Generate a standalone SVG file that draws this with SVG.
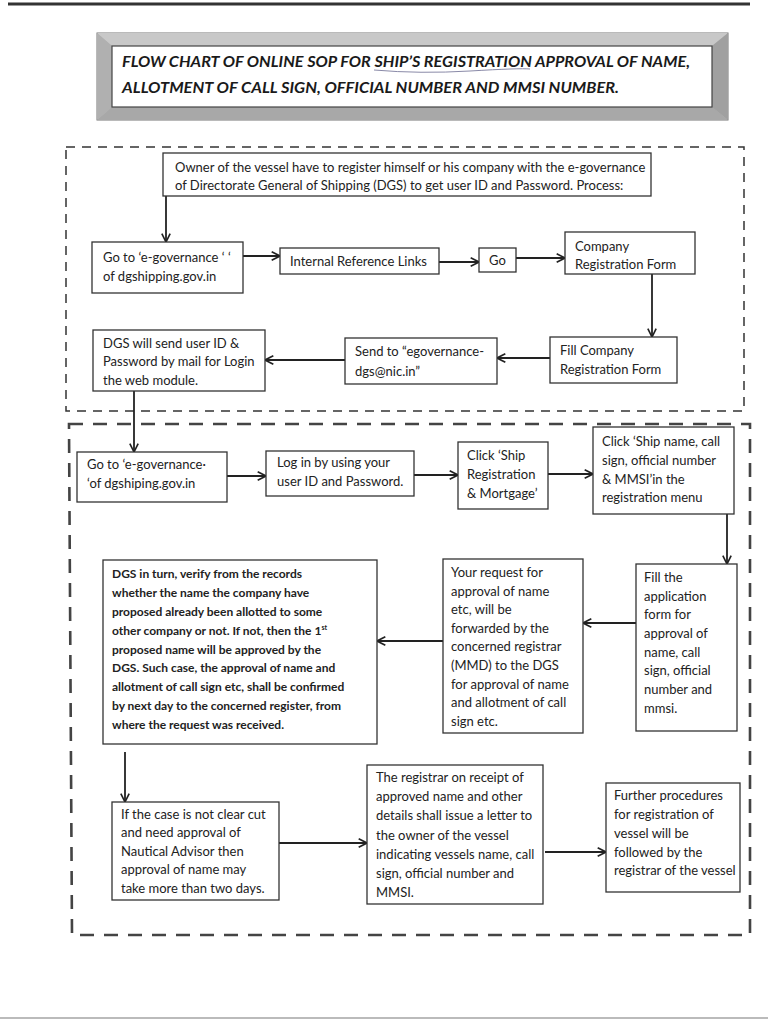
<svg xmlns="http://www.w3.org/2000/svg" width="768" height="1024" viewBox="0 0 768 1024">
<style>
.t{font-family:Lato,"Open Sans","Liberation Sans",sans-serif;font-size:13px;fill:#222}
.b{font-weight:bold;font-size:12px}
.ttl{font-family:Lato,"Open Sans","Liberation Sans",sans-serif;font-size:15.5px;font-style:italic;font-weight:bold;fill:#1a1a1a}
.box{fill:#fff;stroke:#333;stroke-width:1.3}
.c{fill:none;stroke:#222;stroke-width:1.8}
.d1{fill:none;stroke:#333;stroke-width:1.5;stroke-dasharray:9 7}
.d2{fill:none;stroke:#444;stroke-width:2.6;stroke-dasharray:14 10}
</style>
<defs>
<marker id="ah" viewBox="0 0 12 12" refX="11" refY="6" markerWidth="10" markerHeight="10" markerUnits="userSpaceOnUse" orient="auto">
<path d="M1,1 L11,6 L1,11" fill="none" stroke="#222" stroke-width="2"/>
</marker>
</defs>
<rect width="768" height="1024" fill="#fff"/>
<line x1="8" y1="4" x2="750" y2="4" stroke="#333" stroke-width="3"/>
<line x1="0" y1="1018" x2="768" y2="1018" stroke="#bbb" stroke-width="2"/>

<g id="title">
<rect x="97" y="33" width="631" height="87" fill="#b8b8b8" stroke="#777" stroke-width="1"/>
<polygon points="97,33 728,33 712,46 112,46" fill="#c8c8c8"/>
<polygon points="97,120 728,120 712,107 112,107" fill="#a8a8a8"/>
<polygon points="97,33 112,46 112,107 97,120" fill="#b0b0b0"/>
<polygon points="728,33 712,46 712,107 728,120" fill="#a0a0a0"/>
<rect x="112" y="46" width="600" height="61" fill="#fff" stroke="#444" stroke-width="1.2"/>
<text class="ttl" x="122" y="67" textLength="568" lengthAdjust="spacingAndGlyphs">FLOW CHART OF ONLINE SOP FOR SHIP’S REGISTRATION APPROVAL OF NAME,</text>
<text class="ttl" x="122" y="93" textLength="497" lengthAdjust="spacingAndGlyphs">ALLOTMENT OF CALL SIGN, OFFICIAL NUMBER AND MMSI NUMBER.</text>
<path d="M374,70 Q420,74 470,71 T530,69" fill="none" stroke="#8a8aa8" stroke-width="1"/>
</g>

<g id="sections">
<path class="d1" d="M66,147 H744 V411 H66 Z"/>
<path class="d2" d="M69,424 H750 V935 H72 Z"/>
</g>

<g id="connectors">
<path class="c" d="M166,196 V242" marker-end="url(#ah)"/>
<path class="c" d="M243,256 H280" marker-end="url(#ah)"/>
<path class="c" d="M439,262 H479" marker-end="url(#ah)"/>
<path class="c" d="M516,258 H565" marker-end="url(#ah)"/>
<path class="c" d="M652,274 V337" marker-end="url(#ah)"/>
<path class="c" d="M550,358 H497" marker-end="url(#ah)"/>
<path class="c" d="M345,360 H265" marker-end="url(#ah)"/>
<path class="c" d="M134,391 V452" marker-end="url(#ah)"/>
<path class="c" d="M227,476 H266" marker-end="url(#ah)"/>
<path class="c" d="M414,475 H458" marker-end="url(#ah)"/>
<path class="c" d="M548,474 H593" marker-end="url(#ah)"/>
<path class="c" d="M727,514 V564" marker-end="url(#ah)"/>
<path class="c" d="M636,623 H583" marker-end="url(#ah)"/>
<path class="c" d="M443,641 H377" marker-end="url(#ah)"/>
<path class="c" d="M125,752 V802" marker-end="url(#ah)"/>
<path class="c" d="M279,843 H367" marker-end="url(#ah)"/>
<path class="c" d="M545,852 H606" marker-end="url(#ah)"/>
</g>

<g id="n1">
<rect class="box" x="163" y="153" width="488" height="43"/>
<text class="t" x="175" y="172">Owner of the vessel have to register himself or his company with the e-governance</text>
<text class="t" x="175" y="190">of Directorate General of Shipping (DGS) to get user ID and Password. Process:</text>
</g>
<g id="n2">
<rect class="box" x="92" y="242" width="151" height="51"/>
<text class="t" x="103" y="262">Go to ‘e-governance ‘ ‘</text>
<text class="t" x="103" y="281">of dgshipping.gov.in</text>
</g>
<g id="n3">
<rect class="box" x="280" y="248" width="159" height="26"/>
<text class="t" x="290" y="266">Internal Reference Links</text>
</g>
<g id="n4">
<rect class="box" x="479" y="248" width="37" height="24"/>
<text class="t" x="497.5" y="265" text-anchor="middle">Go</text>
</g>
<g id="n5">
<rect class="box" x="565" y="232" width="130" height="42"/>
<text class="t" x="575" y="251">Company</text>
<text class="t" x="575" y="269">Registration Form</text>
</g>
<g id="n6">
<rect class="box" x="550" y="337" width="127" height="46"/>
<text class="t" x="560" y="355">Fill Company</text>
<text class="t" x="560" y="374">Registration Form</text>
</g>
<g id="n7">
<rect class="box" x="345" y="338" width="152" height="46"/>
<text class="t" x="355" y="356">Send to “egovernance-</text>
<text class="t" x="355" y="376">dgs@nic.in”</text>
</g>
<g id="n8">
<rect class="box" x="93" y="330" width="172" height="61"/>
<text class="t" x="103" y="348">DGS will send user ID &amp;</text>
<text class="t" x="103" y="366">Password by mail for Login</text>
<text class="t" x="103" y="385">the web module.</text>
</g>
<g id="n9">
<rect class="box" x="77" y="452" width="150" height="50"/>
<text class="t" x="87" y="469">Go to ‘e-governance·</text>
<text class="t" x="87" y="488">‘of dgshiping.gov.in</text>
</g>
<g id="n10">
<rect class="box" x="266" y="451" width="148" height="45"/>
<text class="t" x="277" y="467">Log in by using your</text>
<text class="t" x="277" y="486">user ID and Password.</text>
</g>
<g id="n11">
<rect class="box" x="458" y="442" width="90" height="67"/>
<text class="t" x="467" y="460">Click ‘Ship</text>
<text class="t" x="467" y="479">Registration</text>
<text class="t" x="467" y="498">&amp; Mortgage’</text>
</g>
<g id="n12">
<rect class="box" x="593" y="427" width="141" height="87"/>
<text class="t" x="602" y="446">Click ‘Ship name, call</text>
<text class="t" x="602" y="465">sign, official number</text>
<text class="t" x="602" y="484">&amp; MMSI’in the</text>
<text class="t" x="602" y="502">registration menu</text>
</g>
<g id="n13">
<rect class="box" x="636" y="564" width="101" height="167"/>
<text class="t" x="644" y="582">Fill the</text>
<text class="t" x="644" y="601">application</text>
<text class="t" x="644" y="619">form for</text>
<text class="t" x="644" y="638">approval of</text>
<text class="t" x="644" y="657">name, call</text>
<text class="t" x="644" y="675">sign, official</text>
<text class="t" x="644" y="694">number and</text>
<text class="t" x="644" y="713">mmsi.</text>
</g>
<g id="n14">
<rect class="box" x="443" y="559" width="140" height="174"/>
<text class="t" x="451" y="577">Your request for</text>
<text class="t" x="451" y="596">approval of name</text>
<text class="t" x="451" y="614">etc, will be</text>
<text class="t" x="451" y="633">forwarded by the</text>
<text class="t" x="451" y="651">concerned registrar</text>
<text class="t" x="451" y="670">(MMD) to the DGS</text>
<text class="t" x="451" y="689">for approval of name</text>
<text class="t" x="451" y="707">and allotment of call</text>
<text class="t" x="451" y="726">sign etc.</text>
</g>
<g id="n15">
<rect class="box" x="103" y="560" width="274" height="184"/>
<text class="t b" x="112" y="578">DGS in turn, verify from the records</text>
<text class="t b" x="112" y="597">whether the name the company have</text>
<text class="t b" x="112" y="616">proposed already been allotted to some</text>
<text class="t b" x="112" y="635">other company or not. If not, then the 1<tspan font-size="7" dy="-5">st</tspan></text>
<text class="t b" x="112" y="654">proposed name will be approved by the</text>
<text class="t b" x="112" y="672">DGS. Such case, the approval of name and</text>
<text class="t b" x="112" y="691">allotment of call sign etc, shall be confirmed</text>
<text class="t b" x="112" y="710">by next day to the concerned register, from</text>
<text class="t b" x="112" y="729">where the request was received.</text>
</g>
<g id="n16">
<rect class="box" x="112" y="802" width="167" height="98"/>
<text class="t" x="121" y="819">If the case is not clear cut</text>
<text class="t" x="121" y="837">and need approval of</text>
<text class="t" x="121" y="856">Nautical Advisor then</text>
<text class="t" x="121" y="874">approval of name may</text>
<text class="t" x="121" y="893">take more than two days.</text>
</g>
<g id="n17">
<rect class="box" x="367" y="765" width="176" height="139"/>
<text class="t" x="376" y="782">The registrar on receipt of</text>
<text class="t" x="376" y="801">approved name and other</text>
<text class="t" x="376" y="820">details shall issue a letter to</text>
<text class="t" x="376" y="840">the owner of the vessel</text>
<text class="t" x="376" y="859">indicating vessels name, call</text>
<text class="t" x="376" y="878">sign, official number and</text>
<text class="t" x="376" y="897">MMSI.</text>
</g>
<g id="n18">
<rect class="box" x="606" y="783" width="134" height="109"/>
<text class="t" x="614" y="800">Further procedures</text>
<text class="t" x="614" y="819">for registration of</text>
<text class="t" x="614" y="838">vessel will be</text>
<text class="t" x="614" y="857">followed by the</text>
<text class="t" x="614" y="875">registrar of the vessel</text>
</g>
</svg>
